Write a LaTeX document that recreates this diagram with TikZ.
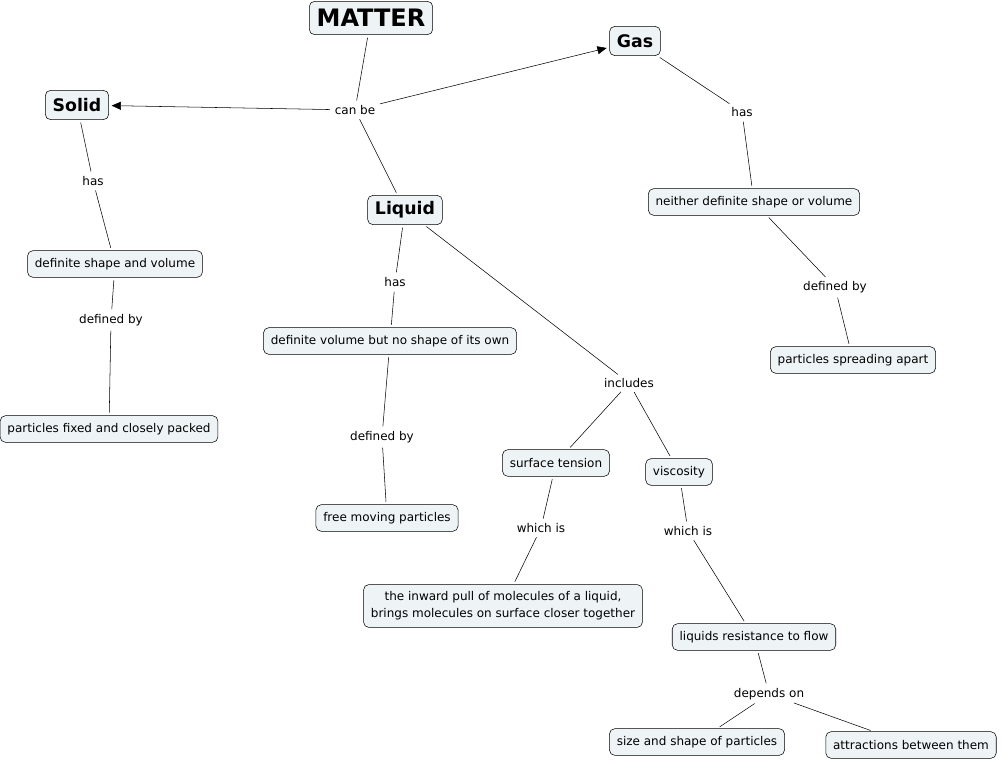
\documentclass[tikz,border=0pt]{standalone}
\usepackage{fontspec}
\setmainfont{DejaVu Sans}
\usetikzlibrary{arrows.meta}
\definecolor{conceptfill}{RGB}{238,244,245}

\begin{document}
\begin{tikzpicture}[x=0.75pt,y=-0.75pt,>={Triangle[length=7pt,width=6pt]},
  concept/.style={draw,rounded corners=4pt,fill=conceptfill,font=\fontsize{9}{11.5}\selectfont,
    inner xsep=5.5pt,inner ysep=4pt,minimum height=20pt,align=center},
  bigconcept/.style={concept,font=\bfseries\fontsize{13}{15}\selectfont,minimum height=22pt},
  link/.style={font=\fontsize{9}{11}\selectfont,inner sep=1.5pt},
  conn/.style={draw,shorten <=2pt,shorten >=2pt}]
\useasboundingbox (0,0) rectangle (1001,760);
% concepts
\node[bigconcept,font=\bfseries\fontsize{18}{20}\selectfont,minimum height=25pt] (matter) at (371,18) {MATTER};
\node[bigconcept] (gas) at (635,41) {Gas};
\node[bigconcept] (solid) at (77,105) {Solid};
\node[bigconcept] (liquid) at (405,210) {Liquid};
\node[concept] (solidprop) at (115,264) {definite shape and volume};
\node[concept] (solidpart) at (109,429) {particles fixed and closely packed};
\node[concept] (liquidprop) at (390,341) {definite volume but no shape of its own};
\node[concept] (liquidpart) at (387,518) {free moving particles};
\node[concept] (surftension) at (556,463) {surface tension};
\node[concept] (viscosity) at (679,472) {viscosity};
\node[concept,font=\fontsize{9}{12.5}\selectfont,inner ysep=5.5pt] (inwardpull) at (503,606) {the inward pull of molecules of a liquid,\\brings molecules on surface closer together};
\node[concept] (resistance) at (754,637) {liquids resistance to flow};
\node[concept] (sizeshape) at (697,742) {size and shape of particles};
\node[concept] (attractions) at (911,745) {attractions between them};
\node[concept] (gasprop) at (754,202) {neither definite shape or volume};
\node[concept] (gaspart) at (853,360) {particles spreading apart};
% linking phrases
\node[link] (canbe) at (355,110) {can be};
\node[link] (solidhas) at (93,181) {has};
\node[link] (soliddef) at (111,320) {defined by};
\node[link] (liquidhas) at (395,282) {has};
\node[link] (liquiddef) at (382,437) {defined by};
\node[link] (includes) at (629,383) {includes};
\node[link] (surfis) at (541,528) {which is};
\node[link] (viscis) at (688,531) {which is};
\node[link] (depends) at (769,694) {depends on};
\node[link] (gashas) at (742,112) {has};
\node[link] (gasdef) at (835,287) {defined by};
% connectors
\path[conn] (matter) -- (canbe);
\path[conn,->] (canbe) -- (solid);
\path[conn,->] (canbe) -- (gas);
\path[conn] (canbe) -- (liquid);
\path[conn] (solid) -- (solidhas);
\path[conn] (solidhas) -- (solidprop);
\path[conn] (solidprop) -- (soliddef);
\path[conn] (soliddef) -- (solidpart);
\path[conn] (liquid) -- (liquidhas);
\path[conn] (liquidhas) -- (liquidprop);
\path[conn] (liquidprop) -- (liquiddef);
\path[conn] (liquiddef) -- (liquidpart);
\path[conn] (liquid) -- (includes);
\path[conn] (includes) -- (surftension);
\path[conn] (includes) -- (viscosity);
\path[conn] (surftension) -- (surfis);
\path[conn] (surfis) -- (inwardpull);
\path[conn] (viscosity) -- (viscis);
\path[conn] (viscis) -- (resistance);
\path[conn] (resistance) -- (depends);
\path[conn] (depends) -- (sizeshape);
\path[conn] (depends) -- (attractions);
\path[conn] (gas) -- (gashas);
\path[conn] (gashas) -- (gasprop);
\path[conn] (gasprop) -- (gasdef);
\path[conn] (gasdef) -- (gaspart);
\end{tikzpicture}
\end{document}
